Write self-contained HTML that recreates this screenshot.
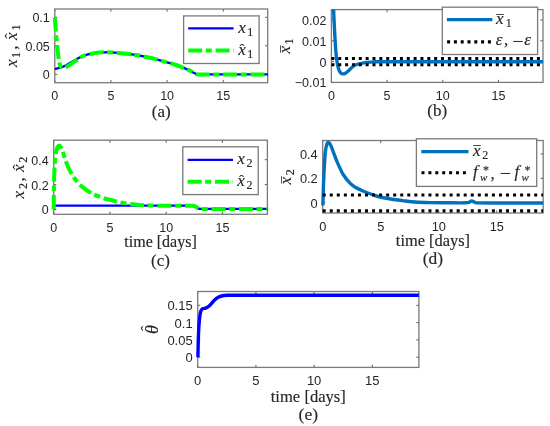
<!DOCTYPE html>
<html><head><meta charset="utf-8"><title>Figure</title>
<style>html,body{margin:0;padding:0;background:#fff;width:550px;height:426px;overflow:hidden}svg{display:block}</style>
</head><body>
<svg width="550" height="426" viewBox="0 0 550 426">
<defs><clipPath id="clipa"><rect x="51.8" y="9.0" width="215.89999999999998" height="73.7"/></clipPath><clipPath id="clipb"><rect x="328.4" y="9.6" width="214.60000000000002" height="72.80000000000001"/></clipPath><clipPath id="clipc"><rect x="50.7" y="140.2" width="216.7" height="74.10000000000002"/></clipPath><clipPath id="clipd"><rect x="319.7" y="140.5" width="223.50000000000006" height="72.5"/></clipPath><clipPath id="clipe"><rect x="194.7" y="291.5" width="224.2" height="75.89999999999998"/></clipPath></defs>
<rect width="550" height="426" fill="#fff"/>
<g stroke="#5a5a5a" stroke-width="1"><line x1="54.80" y1="82.70" x2="54.80" y2="80.10"/><line x1="54.80" y1="9.00" x2="54.80" y2="11.60"/><line x1="110.90" y1="82.70" x2="110.90" y2="80.10"/><line x1="110.90" y1="9.00" x2="110.90" y2="11.60"/><line x1="167.10" y1="82.70" x2="167.10" y2="80.10"/><line x1="167.10" y1="9.00" x2="167.10" y2="11.60"/><line x1="223.30" y1="82.70" x2="223.30" y2="80.10"/><line x1="223.30" y1="9.00" x2="223.30" y2="11.60"/><line x1="54.80" y1="74.30" x2="57.40" y2="74.30"/><line x1="267.70" y1="74.30" x2="265.10" y2="74.30"/><line x1="54.80" y1="45.80" x2="57.40" y2="45.80"/><line x1="267.70" y1="45.80" x2="265.10" y2="45.80"/><line x1="54.80" y1="17.30" x2="57.40" y2="17.30"/><line x1="267.70" y1="17.30" x2="265.10" y2="17.30"/></g>
<rect x="54.80" y="9.00" width="212.90" height="73.70" fill="none" stroke="#7a7a7a" stroke-width="1.3"/>
<g font-family="'Liberation Sans', Arial, sans-serif" font-size="12.5" fill="#262626"><text x="54.80" y="100.10" text-anchor="middle">0</text><text x="110.90" y="100.10" text-anchor="middle">5</text><text x="167.10" y="100.10" text-anchor="middle">10</text><text x="223.30" y="100.10" text-anchor="middle">15</text><text x="49.80" y="79.27" text-anchor="end">0</text><text x="49.80" y="50.77" text-anchor="end">0.05</text><text x="49.80" y="22.27" text-anchor="end">0.1</text></g>
<text x="161.25" y="117.30" text-anchor="middle" font-family="'Liberation Serif', 'Times New Roman', serif" font-size="17" fill="#262626" stroke="#262626" stroke-width="0.15">(a)</text>
<g stroke="#5a5a5a" stroke-width="1"><line x1="331.40" y1="82.40" x2="331.40" y2="79.80"/><line x1="331.40" y1="9.60" x2="331.40" y2="12.20"/><line x1="387.08" y1="82.40" x2="387.08" y2="79.80"/><line x1="387.08" y1="9.60" x2="387.08" y2="12.20"/><line x1="442.77" y1="82.40" x2="442.77" y2="79.80"/><line x1="442.77" y1="9.60" x2="442.77" y2="12.20"/><line x1="498.45" y1="82.40" x2="498.45" y2="79.80"/><line x1="498.45" y1="9.60" x2="498.45" y2="12.20"/><line x1="331.40" y1="82.40" x2="334.00" y2="82.40"/><line x1="543.00" y1="82.40" x2="540.40" y2="82.40"/><line x1="331.40" y1="61.60" x2="334.00" y2="61.60"/><line x1="543.00" y1="61.60" x2="540.40" y2="61.60"/><line x1="331.40" y1="40.80" x2="334.00" y2="40.80"/><line x1="543.00" y1="40.80" x2="540.40" y2="40.80"/><line x1="331.40" y1="20.00" x2="334.00" y2="20.00"/><line x1="543.00" y1="20.00" x2="540.40" y2="20.00"/></g>
<rect x="331.40" y="9.60" width="211.60" height="72.80" fill="none" stroke="#7a7a7a" stroke-width="1.3"/>
<g font-family="'Liberation Sans', Arial, sans-serif" font-size="12.5" fill="#262626"><text x="331.40" y="99.90" text-anchor="middle">0</text><text x="387.08" y="99.90" text-anchor="middle">5</text><text x="442.77" y="99.90" text-anchor="middle">10</text><text x="498.45" y="99.90" text-anchor="middle">15</text><text x="326.40" y="87.38" text-anchor="end">−0.01</text><text x="326.40" y="66.58" text-anchor="end">0</text><text x="326.40" y="45.77" text-anchor="end">0.01</text><text x="326.40" y="24.98" text-anchor="end">0.02</text></g>
<text x="437.20" y="116.30" text-anchor="middle" font-family="'Liberation Serif', 'Times New Roman', serif" font-size="17" fill="#262626" stroke="#262626" stroke-width="0.15">(b)</text>
<g stroke="#5a5a5a" stroke-width="1"><line x1="53.70" y1="214.30" x2="53.70" y2="211.70"/><line x1="53.70" y1="140.20" x2="53.70" y2="142.80"/><line x1="109.94" y1="214.30" x2="109.94" y2="211.70"/><line x1="109.94" y1="140.20" x2="109.94" y2="142.80"/><line x1="166.17" y1="214.30" x2="166.17" y2="211.70"/><line x1="166.17" y1="140.20" x2="166.17" y2="142.80"/><line x1="222.41" y1="214.30" x2="222.41" y2="211.70"/><line x1="222.41" y1="140.20" x2="222.41" y2="142.80"/><line x1="53.70" y1="209.50" x2="56.30" y2="209.50"/><line x1="267.40" y1="209.50" x2="264.80" y2="209.50"/><line x1="53.70" y1="184.60" x2="56.30" y2="184.60"/><line x1="267.40" y1="184.60" x2="264.80" y2="184.60"/><line x1="53.70" y1="159.70" x2="56.30" y2="159.70"/><line x1="267.40" y1="159.70" x2="264.80" y2="159.70"/></g>
<rect x="53.70" y="140.20" width="213.70" height="74.10" fill="none" stroke="#7a7a7a" stroke-width="1.3"/>
<g font-family="'Liberation Sans', Arial, sans-serif" font-size="12.5" fill="#262626"><text x="53.70" y="231.60" text-anchor="middle">0</text><text x="109.94" y="231.60" text-anchor="middle">5</text><text x="166.17" y="231.60" text-anchor="middle">10</text><text x="222.41" y="231.60" text-anchor="middle">15</text><text x="48.70" y="214.47" text-anchor="end">0</text><text x="48.70" y="189.57" text-anchor="end">0.2</text><text x="48.70" y="164.67" text-anchor="end">0.4</text></g>
<text x="160.55" y="247.20" text-anchor="middle" font-family="'Liberation Serif', 'Times New Roman', serif" font-size="16" fill="#262626" stroke="#262626" stroke-width="0.15">time [days]</text>
<text x="160.55" y="266.00" text-anchor="middle" font-family="'Liberation Serif', 'Times New Roman', serif" font-size="17" fill="#262626" stroke="#262626" stroke-width="0.15">(c)</text>
<g stroke="#5a5a5a" stroke-width="1"><line x1="322.70" y1="213.00" x2="322.70" y2="210.40"/><line x1="322.70" y1="140.50" x2="322.70" y2="143.10"/><line x1="380.73" y1="213.00" x2="380.73" y2="210.40"/><line x1="380.73" y1="140.50" x2="380.73" y2="143.10"/><line x1="438.75" y1="213.00" x2="438.75" y2="210.40"/><line x1="438.75" y1="140.50" x2="438.75" y2="143.10"/><line x1="496.78" y1="213.00" x2="496.78" y2="210.40"/><line x1="496.78" y1="140.50" x2="496.78" y2="143.10"/><line x1="322.70" y1="202.70" x2="325.30" y2="202.70"/><line x1="543.20" y1="202.70" x2="540.60" y2="202.70"/><line x1="322.70" y1="178.30" x2="325.30" y2="178.30"/><line x1="543.20" y1="178.30" x2="540.60" y2="178.30"/><line x1="322.70" y1="153.90" x2="325.30" y2="153.90"/><line x1="543.20" y1="153.90" x2="540.60" y2="153.90"/></g>
<rect x="322.70" y="140.50" width="220.50" height="72.50" fill="none" stroke="#7a7a7a" stroke-width="1.3"/>
<g font-family="'Liberation Sans', Arial, sans-serif" font-size="12.8" fill="#262626"><text x="322.70" y="230.90" text-anchor="middle">0</text><text x="380.73" y="230.90" text-anchor="middle">5</text><text x="438.75" y="230.90" text-anchor="middle">10</text><text x="496.78" y="230.90" text-anchor="middle">15</text><text x="317.70" y="207.78" text-anchor="end">0</text><text x="317.70" y="183.38" text-anchor="end">0.2</text><text x="317.70" y="158.98" text-anchor="end">0.4</text></g>
<text x="432.95" y="245.50" text-anchor="middle" font-family="'Liberation Serif', 'Times New Roman', serif" font-size="16.4" fill="#262626" stroke="#262626" stroke-width="0.15">time [days]</text>
<text x="432.95" y="264.10" text-anchor="middle" font-family="'Liberation Serif', 'Times New Roman', serif" font-size="17.4" fill="#262626" stroke="#262626" stroke-width="0.15">(d)</text>
<g stroke="#5a5a5a" stroke-width="1"><line x1="197.70" y1="367.40" x2="197.70" y2="364.80"/><line x1="197.70" y1="291.50" x2="197.70" y2="294.10"/><line x1="255.91" y1="367.40" x2="255.91" y2="364.80"/><line x1="255.91" y1="291.50" x2="255.91" y2="294.10"/><line x1="314.12" y1="367.40" x2="314.12" y2="364.80"/><line x1="314.12" y1="291.50" x2="314.12" y2="294.10"/><line x1="372.33" y1="367.40" x2="372.33" y2="364.80"/><line x1="372.33" y1="291.50" x2="372.33" y2="294.10"/><line x1="197.70" y1="357.20" x2="200.30" y2="357.20"/><line x1="418.90" y1="357.20" x2="416.30" y2="357.20"/><line x1="197.70" y1="339.90" x2="200.30" y2="339.90"/><line x1="418.90" y1="339.90" x2="416.30" y2="339.90"/><line x1="197.70" y1="322.60" x2="200.30" y2="322.60"/><line x1="418.90" y1="322.60" x2="416.30" y2="322.60"/><line x1="197.70" y1="305.30" x2="200.30" y2="305.30"/><line x1="418.90" y1="305.30" x2="416.30" y2="305.30"/></g>
<rect x="197.70" y="291.50" width="221.20" height="75.90" fill="none" stroke="#7a7a7a" stroke-width="1.3"/>
<g font-family="'Liberation Sans', Arial, sans-serif" font-size="13" fill="#262626"><text x="197.70" y="385.00" text-anchor="middle">0</text><text x="255.91" y="385.00" text-anchor="middle">5</text><text x="314.12" y="385.00" text-anchor="middle">10</text><text x="372.33" y="385.00" text-anchor="middle">15</text><text x="192.70" y="362.35" text-anchor="end">0</text><text x="192.70" y="345.05" text-anchor="end">0.05</text><text x="192.70" y="327.75" text-anchor="end">0.1</text><text x="192.70" y="310.45" text-anchor="end">0.15</text></g>
<text x="308.30" y="402.10" text-anchor="middle" font-family="'Liberation Serif', 'Times New Roman', serif" font-size="16.6" fill="#262626" stroke="#262626" stroke-width="0.15">time [days]</text>
<text x="308.30" y="420.30" text-anchor="middle" font-family="'Liberation Serif', 'Times New Roman', serif" font-size="17.6" fill="#262626" stroke="#262626" stroke-width="0.15">(e)</text>
<g clip-path="url(#clipa)" fill="none">
<path d="M54.80,69.00 C55.67,68.77 58.27,68.15 60.00,67.60 C61.73,67.05 63.53,66.47 65.20,65.70 C66.87,64.93 68.38,63.92 70.00,63.00 C71.62,62.08 72.77,61.37 74.90,60.20 C77.03,59.03 79.57,57.17 82.80,56.00 C86.03,54.83 90.62,53.82 94.30,53.20 C97.98,52.58 101.38,52.40 104.90,52.30 C108.42,52.20 111.30,52.30 115.40,52.60 C119.50,52.90 126.00,53.70 129.50,54.10 C133.00,54.50 133.82,54.55 136.40,55.00 C138.98,55.45 141.82,56.12 145.00,56.80 C148.18,57.48 152.17,58.27 155.50,59.10 C158.83,59.93 161.83,60.90 165.00,61.80 C168.17,62.70 171.08,63.37 174.50,64.50 C177.92,65.63 182.75,67.48 185.50,68.60 C188.25,69.72 189.18,70.28 191.00,71.20 C192.82,72.12 195.50,73.62 196.40,74.10 L198,74.4 L268,74.4" stroke="#0000ff" stroke-width="2.3"/>
<path d="M54.80,17.60 C55.10,21.33 56.02,33.60 56.60,40.00 C57.18,46.40 57.77,51.92 58.30,56.00 C58.83,60.08 59.27,62.63 59.80,64.50 C60.33,66.37 60.88,66.68 61.50,67.20 C62.12,67.72 62.58,67.72 63.50,67.60 C64.42,67.48 65.10,67.55 67.00,66.50 C68.90,65.45 72.27,63.02 74.90,61.30 C77.53,59.58 79.57,57.55 82.80,56.20 C86.03,54.85 90.62,53.85 94.30,53.20 C97.98,52.55 101.38,52.40 104.90,52.30 C108.42,52.20 111.30,52.30 115.40,52.60 C119.50,52.90 126.00,53.70 129.50,54.10 C133.00,54.50 133.82,54.55 136.40,55.00 C138.98,55.45 141.82,56.12 145.00,56.80 C148.18,57.48 152.17,58.27 155.50,59.10 C158.83,59.93 161.83,60.90 165.00,61.80 C168.17,62.70 171.08,63.37 174.50,64.50 C177.92,65.63 182.75,67.48 185.50,68.60 C188.25,69.72 189.18,70.28 191.00,71.20 C192.82,72.12 195.50,73.62 196.40,74.10 L198,74.4 L268,74.4" stroke="#00ff00" stroke-width="4" stroke-dasharray="14 3.6 6 3.8"/>
</g>
<g clip-path="url(#clipb)" fill="none">
<path d="M332.60,-30.00 C332.77,-23.40 333.13,-2.90 333.60,9.60 C334.07,22.10 334.93,37.10 335.40,45.00 C335.87,52.90 336.05,53.75 336.40,57.00 C336.75,60.25 337.07,62.30 337.50,64.50 C337.93,66.70 338.42,68.75 339.00,70.20 C339.58,71.65 340.35,72.58 341.00,73.20 C341.65,73.82 342.23,73.87 342.90,73.90 C343.57,73.93 344.15,73.85 345.00,73.40 C345.85,72.95 346.72,72.30 348.00,71.20 C349.28,70.10 351.37,67.87 352.70,66.80 C354.03,65.73 354.78,65.33 356.00,64.80 C357.22,64.27 358.27,64.00 360.00,63.60 C361.73,63.20 363.90,62.68 366.40,62.40 C368.90,62.12 371.07,62.00 375.00,61.90 C378.93,61.80 362.00,61.82 390.00,61.80 C418.00,61.78 517.50,61.80 543.00,61.80" stroke="#0072bd" stroke-width="3.4"/>
<path d="M331.4,58.5 H543.0 M331.4,64.8 H543.0" stroke="#000" stroke-width="3.1" stroke-dasharray="3 3.85"/>
</g>
<g clip-path="url(#clipc)" fill="none">
<path d="M53.70,205.70 L193.80,205.70 L195.80,206.60 L198.20,208.50 L200.00,208.80 L267.40,208.80" stroke="#0000ff" stroke-width="2.3" stroke-linejoin="round"/>
<path d="M53.70,209.00 C53.73,205.83 53.78,196.50 53.90,190.00 C54.02,183.50 54.13,175.83 54.40,170.00 C54.67,164.17 55.02,158.75 55.50,155.00 C55.98,151.25 56.68,149.08 57.30,147.50 C57.92,145.92 58.60,145.53 59.20,145.50 C59.80,145.47 60.37,146.55 60.90,147.30 C61.43,148.05 61.72,148.08 62.40,150.00 C63.08,151.92 63.93,155.72 65.00,158.80 C66.07,161.88 67.23,165.27 68.80,168.50 C70.37,171.73 72.22,175.18 74.40,178.20 C76.58,181.22 79.08,184.10 81.90,186.60 C84.72,189.10 87.85,191.32 91.30,193.20 C94.75,195.08 99.48,196.80 102.60,197.90 C105.72,199.00 107.10,199.07 110.00,199.80 C112.90,200.53 115.83,201.50 120.00,202.30 C124.17,203.10 130.00,204.07 135.00,204.60 C140.00,205.13 144.17,205.32 150.00,205.50 C155.83,205.68 162.75,205.65 170.00,205.70 C177.25,205.75 189.58,205.78 193.50,205.80 L195.8,206.6 L198.2,208.5 L200,208.9 L267.4,208.9" stroke="#00ff00" stroke-width="4" stroke-linejoin="round" stroke-dasharray="14 3.6 6 3.8"/>
</g>
<g clip-path="url(#clipd)" fill="none">
<path d="M322.90,205.50 C322.97,202.92 323.12,195.45 323.30,190.00 C323.48,184.55 323.67,179.05 324.00,172.80 C324.33,166.55 324.80,157.33 325.30,152.50 C325.80,147.67 326.43,145.50 327.00,143.80 C327.57,142.10 328.08,142.05 328.70,142.30 C329.32,142.55 329.72,143.12 330.70,145.30 C331.68,147.48 333.37,152.27 334.60,155.40 C335.83,158.53 336.67,160.92 338.10,164.10 C339.53,167.28 341.22,171.32 343.20,174.50 C345.18,177.68 348.07,181.12 350.00,183.20 C351.93,185.28 352.55,185.67 354.80,187.00 C357.05,188.33 360.60,189.95 363.50,191.20 C366.40,192.45 369.45,193.53 372.20,194.50 C374.95,195.47 376.70,196.22 380.00,197.00 C383.30,197.78 388.22,198.60 392.00,199.20 C395.78,199.80 398.87,200.13 402.70,200.60 C406.53,201.07 410.45,201.67 415.00,202.00 C419.55,202.33 424.17,202.47 430.00,202.60 C435.83,202.73 444.08,202.77 450.00,202.80 C455.92,202.83 462.33,202.88 465.50,202.80 C468.67,202.72 467.98,202.62 469.00,202.30 C470.02,201.98 470.68,200.92 471.60,200.90 C472.52,200.88 473.43,201.87 474.50,202.20 C475.57,202.53 473.75,202.77 478.00,202.90 C482.25,203.03 489.13,202.98 500.00,203.00 C510.87,203.02 536.00,203.00 543.20,203.00" stroke="#0072bd" stroke-width="3.4"/>
<path d="M322.7,195.0 H543.2 M322.7,210.9 H543.2" stroke="#000" stroke-width="3.2" stroke-dasharray="3 4.05"/>
</g>
<g clip-path="url(#clipe)" fill="none">
<path d="M197.90,357.30 C198.00,353.42 198.25,340.22 198.50,334.00 C198.75,327.78 199.05,323.70 199.40,320.00 C199.75,316.30 200.07,313.68 200.60,311.80 C201.13,309.92 201.78,309.30 202.60,308.70 C203.42,308.10 204.47,308.60 205.50,308.20 C206.53,307.80 207.47,307.47 208.80,306.30 C210.13,305.13 211.93,302.70 213.50,301.20 C215.07,299.70 216.45,298.25 218.20,297.30 C219.95,296.35 222.03,295.85 224.00,295.50 C225.97,295.15 225.67,295.25 230.00,295.20 C234.33,295.15 218.52,295.20 250.00,295.20 C281.48,295.20 390.75,295.20 418.90,295.20" stroke="#0000ff" stroke-width="3.4"/>
</g>
<rect x="183.6" y="15.9" width="75.50000000000003" height="47.6" fill="#fff" stroke="#7a7a7a" stroke-width="1.3"/>
<line x1="188.2" y1="28.3" x2="233.6" y2="28.3" stroke="#0000ff" stroke-width="2.3"/>
<line x1="188.2" y1="50.5" x2="233.6" y2="50.5" stroke="#00ff00" stroke-width="4" stroke-dasharray="14 3.6 6 3.8"/>
<text x="238.2" y="33.0" font-family="'Liberation Serif', 'Times New Roman', serif" fill="#262626" stroke="#262626" stroke-width="0.15" font-size="17" font-style="italic">x<tspan font-style="normal" font-size="12" dy="3" dx="1.6">1</tspan></text>
<text x="238.2" y="54.6" font-family="'Liberation Serif', 'Times New Roman', serif" fill="#262626" stroke="#262626" stroke-width="0.15" font-size="17" font-style="italic">x<tspan font-style="normal" font-size="12" dy="3" dx="1.6">1</tspan></text>
<text x="242.0" y="53.5" text-anchor="middle" font-family="'Liberation Serif', 'Times New Roman', serif" fill="#262626" stroke="#262626" stroke-width="0.15" font-size="15">ˆ</text>
<rect x="442.3" y="7.2" width="95.30000000000001" height="47.3" fill="#fff" stroke="#7a7a7a" stroke-width="1.3"/>
<line x1="446.9" y1="19.6" x2="492.4" y2="19.6" stroke="#0072bd" stroke-width="3.4"/>
<line x1="447.1" y1="41.9" x2="492.4" y2="41.9" stroke="#000" stroke-width="3.1" stroke-dasharray="3 3.8"/>
<text x="496.0" y="24.1" font-family="'Liberation Serif', 'Times New Roman', serif" fill="#262626" stroke="#262626" stroke-width="0.15" font-size="17" font-style="italic">x<tspan font-style="normal" font-size="12" dy="3" dx="2.2">1</tspan></text>
<text x="500.0" y="24.7" text-anchor="middle" font-family="'Liberation Serif', 'Times New Roman', serif" fill="#262626" stroke="#262626" stroke-width="0.15" font-size="14">¯</text>
<text x="495.8" y="44.7" font-family="'Liberation Serif', 'Times New Roman', serif" fill="#262626" stroke="#262626" stroke-width="0.15" font-size="17" font-style="italic">ε</text>
<text x="503.9" y="45.2" font-family="'Liberation Serif', 'Times New Roman', serif" fill="#262626" stroke="#262626" stroke-width="0.15" font-size="17">,</text>
<text x="512.2" y="47.8" font-family="'Liberation Serif', 'Times New Roman', serif" fill="#262626" stroke="#262626" stroke-width="0.15" font-size="20">−</text>
<text x="524.2" y="44.7" font-family="'Liberation Serif', 'Times New Roman', serif" fill="#262626" stroke="#262626" stroke-width="0.15" font-size="17" font-style="italic">ε</text>
<rect x="182.8" y="146.8" width="75.39999999999998" height="47.79999999999998" fill="#fff" stroke="#7a7a7a" stroke-width="1.3"/>
<line x1="187.6" y1="159.8" x2="233" y2="159.8" stroke="#0000ff" stroke-width="2.3"/>
<line x1="187.6" y1="181.8" x2="233" y2="181.8" stroke="#00ff00" stroke-width="4" stroke-dasharray="14 3.6 6 3.8"/>
<text x="237.3" y="163.9" font-family="'Liberation Serif', 'Times New Roman', serif" fill="#262626" stroke="#262626" stroke-width="0.15" font-size="17" font-style="italic">x<tspan font-style="normal" font-size="12" dy="3" dx="1.6">2</tspan></text>
<text x="237.3" y="186.1" font-family="'Liberation Serif', 'Times New Roman', serif" fill="#262626" stroke="#262626" stroke-width="0.15" font-size="17" font-style="italic">x<tspan font-style="normal" font-size="12" dy="3" dx="1.6">2</tspan></text>
<text x="241.5" y="185.0" text-anchor="middle" font-family="'Liberation Serif', 'Times New Roman', serif" fill="#262626" stroke="#262626" stroke-width="0.15" font-size="15">ˆ</text>
<rect x="416.4" y="138.8" width="120.30000000000007" height="47.599999999999994" fill="#fff" stroke="#7a7a7a" stroke-width="1.3"/>
<line x1="421.3" y1="151.6" x2="468.5" y2="151.6" stroke="#0072bd" stroke-width="3.4"/>
<line x1="421.5" y1="172.8" x2="468.5" y2="172.8" stroke="#000" stroke-width="3.1" stroke-dasharray="3 3.9"/>
<text x="473.0" y="156.1" font-family="'Liberation Serif', 'Times New Roman', serif" fill="#262626" stroke="#262626" stroke-width="0.15" font-size="17" font-style="italic">x<tspan font-style="normal" font-size="12" dy="3" dx="1.6">2</tspan></text>
<text x="477.0" y="156.4" text-anchor="middle" font-family="'Liberation Serif', 'Times New Roman', serif" fill="#262626" stroke="#262626" stroke-width="0.15" font-size="14">¯</text>
<text x="472.9" y="177.3" font-family="'Liberation Serif', 'Times New Roman', serif" fill="#262626" stroke="#262626" stroke-width="0.15" font-size="17" font-style="italic">f</text>
<text x="480.09999999999997" y="180.9" font-family="'Liberation Serif', 'Times New Roman', serif" fill="#262626" stroke="#262626" stroke-width="0.15" font-size="11" font-style="italic">w</text>
<text x="483.0" y="174.0" font-family="'Liberation Serif', 'Times New Roman', serif" fill="#262626" stroke="#262626" stroke-width="0.15" font-size="12">*</text>
<text x="490.6" y="178.6" font-family="'Liberation Serif', 'Times New Roman', serif" fill="#262626" stroke="#262626" stroke-width="0.15" font-size="17">,</text>
<text x="499.8" y="179.9" font-family="'Liberation Serif', 'Times New Roman', serif" fill="#262626" stroke="#262626" stroke-width="0.15" font-size="20">−</text>
<text x="514.4" y="177.3" font-family="'Liberation Serif', 'Times New Roman', serif" fill="#262626" stroke="#262626" stroke-width="0.15" font-size="17" font-style="italic">f</text>
<text x="521.6" y="180.9" font-family="'Liberation Serif', 'Times New Roman', serif" fill="#262626" stroke="#262626" stroke-width="0.15" font-size="11" font-style="italic">w</text>
<text x="524.5" y="174.0" font-family="'Liberation Serif', 'Times New Roman', serif" fill="#262626" stroke="#262626" stroke-width="0.15" font-size="12">*</text>
<text transform="translate(16.6,66.9) rotate(-90)" font-family="'Liberation Serif', 'Times New Roman', serif" fill="#262626" stroke="#262626" stroke-width="0.15" font-size="17" font-style="italic">x</text>
<text transform="translate(19.6,58.10000000000001) rotate(-90)" font-family="'Liberation Serif', 'Times New Roman', serif" fill="#262626" stroke="#262626" stroke-width="0.15" font-size="12" font-style="normal">1</text>
<text transform="translate(16.6,49.7) rotate(-90)" font-family="'Liberation Serif', 'Times New Roman', serif" fill="#262626" stroke="#262626" stroke-width="0.15" font-size="17" font-style="normal">,</text>
<text transform="translate(16.6,39.900000000000006) rotate(-90)" font-family="'Liberation Serif', 'Times New Roman', serif" fill="#262626" stroke="#262626" stroke-width="0.15" font-size="17" font-style="italic">x</text>
<text transform="translate(19.6,30.500000000000007) rotate(-90)" font-family="'Liberation Serif', 'Times New Roman', serif" fill="#262626" stroke="#262626" stroke-width="0.15" font-size="12" font-style="normal">1</text>
<text transform="translate(15.0,35.9) rotate(-90)" text-anchor="middle" font-family="'Liberation Serif', 'Times New Roman', serif" fill="#262626" stroke="#262626" stroke-width="0.15" font-size="15" font-style="normal">ˆ</text>
<text transform="translate(23.9,198.4) rotate(-90)" font-family="'Liberation Serif', 'Times New Roman', serif" fill="#262626" stroke="#262626" stroke-width="0.15" font-size="17" font-style="italic">x</text>
<text transform="translate(26.9,189.0) rotate(-90)" font-family="'Liberation Serif', 'Times New Roman', serif" fill="#262626" stroke="#262626" stroke-width="0.15" font-size="12" font-style="normal">2</text>
<text transform="translate(23.9,181.5) rotate(-90)" font-family="'Liberation Serif', 'Times New Roman', serif" fill="#262626" stroke="#262626" stroke-width="0.15" font-size="17" font-style="normal">,</text>
<text transform="translate(23.9,172.1) rotate(-90)" font-family="'Liberation Serif', 'Times New Roman', serif" fill="#262626" stroke="#262626" stroke-width="0.15" font-size="17" font-style="italic">x</text>
<text transform="translate(26.9,162.8) rotate(-90)" font-family="'Liberation Serif', 'Times New Roman', serif" fill="#262626" stroke="#262626" stroke-width="0.15" font-size="12" font-style="normal">2</text>
<text transform="translate(22.9,167.0) rotate(-90)" text-anchor="middle" font-family="'Liberation Serif', 'Times New Roman', serif" fill="#262626" stroke="#262626" stroke-width="0.15" font-size="15" font-style="normal">ˆ</text>
<text transform="translate(289.8,53.6) rotate(-90)" text-anchor="start" font-family="'Liberation Serif', 'Times New Roman', serif" fill="#262626" stroke="#262626" stroke-width="0.15" font-size="17" font-style="italic">x<tspan font-style="normal" font-size="12" dy="3" dx="1.6">1</tspan></text>
<text transform="translate(290.8,49.0) rotate(-90)" text-anchor="middle" font-family="'Liberation Serif', 'Times New Roman', serif" fill="#262626" stroke="#262626" stroke-width="0.15" font-size="14" font-style="normal">¯</text>
<text transform="translate(291.3,184.5) rotate(-90)" text-anchor="start" font-family="'Liberation Serif', 'Times New Roman', serif" fill="#262626" stroke="#262626" stroke-width="0.15" font-size="17" font-style="italic">x<tspan font-style="normal" font-size="12" dy="3" dx="1.6">2</tspan></text>
<text transform="translate(292.0,179.7) rotate(-90)" text-anchor="middle" font-family="'Liberation Serif', 'Times New Roman', serif" fill="#262626" stroke="#262626" stroke-width="0.15" font-size="14" font-style="normal">¯</text>
<text transform="translate(158.3,329.7) rotate(-90)" text-anchor="middle" font-family="'Liberation Serif', 'Times New Roman', serif" fill="#262626" stroke="#262626" stroke-width="0.15" font-size="18" font-style="italic">θ</text>
<text transform="translate(150.8,328.3) rotate(-90)" text-anchor="middle" font-family="'Liberation Serif', 'Times New Roman', serif" fill="#262626" stroke="#262626" stroke-width="0.15" font-size="15" font-style="normal">ˆ</text>
</svg>
</body></html>
